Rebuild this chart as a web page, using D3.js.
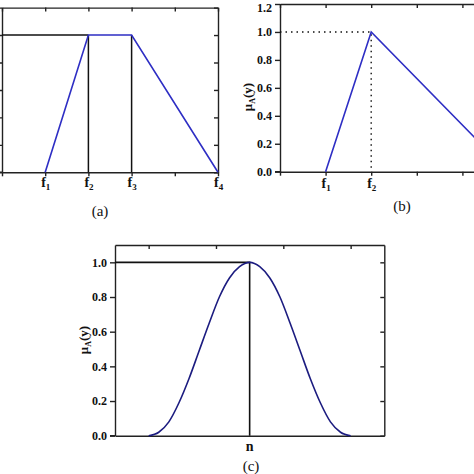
<!DOCTYPE html>
<html>
<head>
<meta charset="utf-8">
<script src="https://cdn.jsdelivr.net/npm/d3@7"></script>
<style>
  html, body { margin: 0; padding: 0; background: #fff; }
  svg { display: block; }
  text { font-family: "Liberation Serif", "Times New Roman", serif; fill: #111; }
  .tick text { font-weight: bold; font-size: 12px; }
  .domain, .tick line { stroke: #222; stroke-width: 1.4; }
</style>
</head>
<body>
<svg id="chart" width="474" height="474"></svg>
<script>
// panel (a): trapezoid membership
const trapX = [1, 2, 3, 5];
const trapY = [0, 1, 1, 0];
// panel (b): triangular membership
const triX = [1, 2, 5];
const triY = [0, 1, 0];
// panel (c): bell-shaped membership (n at 0)
const bellX = [-1.5, -1.35, -1.2, -1.05, -0.9, -0.75, -0.6, -0.45, -0.3, -0.15, 0,
               0.15, 0.3, 0.45, 0.6, 0.75, 0.9, 1.05, 1.2, 1.35, 1.5];
const bellY = [0, 0.02, 0.08, 0.19, 0.33, 0.49, 0.65, 0.8, 0.91, 0.975, 1,
               0.975, 0.91, 0.8, 0.65, 0.49, 0.33, 0.19, 0.08, 0.02, 0];

const fTicks = [0, 1, 2, 3, 4, 5];
const fLabels = {1: '1', 2: '2', 3: '3', 5: '4'};
const bLabels = {1: '1', 2: '2'};
const yTicks = [0, 0.2, 0.4, 0.6, 0.8, 1.0, 1.2];
const cTopTicks = [-1.5, -0.5, 0.5, 1.5];
const cYTicks = [0, 0.2, 0.4, 0.6, 0.8, 1.0];

const svg = d3.select('#chart');

function frame(x, y, xTicks, yT, opts) {
    const g = svg.append('g');
    const [x0, x1] = x.range();
    const [y0, y1] = y.range();
    const noBottom = opts.bottomTicks && opts.bottomTicks.length === 0;

    // bottom axis, ticks outward
    g.append('g')
        .attr('transform', `translate(0,${y0})`)
        .call(d3.axisBottom(x).tickValues(noBottom ? [] : xTicks).tickSize(4).tickSizeOuter(0).tickFormat(''));
    // top border, ticks inward
    g.append('g')
        .attr('transform', `translate(0,${y1})`)
        .call(d3.axisBottom(x).tickValues(xTicks).tickSize(4).tickSizeOuter(0).tickFormat(''));
    // left axis
    const left = g.append('g')
        .attr('transform', `translate(${x0},0)`)
        .call(d3.axisLeft(y).tickValues(yT).tickSize(5).tickSizeOuter(0).tickPadding(3)
            .tickFormat(opts.hideY ? '' : d3.format('.1f')));
    // keep the top label inside the picture
    left.selectAll('.tick text').filter(d => y(d) < 8).attr('dy', '0.62em');
    // right border, ticks inward
    g.append('g')
        .attr('transform', `translate(${x1},0)`)
        .call(d3.axisLeft(y).tickValues(yT).tickSize(4).tickSizeOuter(0).tickFormat(''));
    g.append('line')
        .attr('x1', x0 - 5).attr('x2', x0)
        .attr('y1', y0).attr('y2', y0)
        .attr('stroke', '#222').attr('stroke-width', 1.4);
    return g;
}

function fLabelsAt(g, x, yBase, labels) {
    Object.keys(labels).forEach(k => {
        const t = g.append('text')
            .attr('x', x(+k) - 4)
            .attr('y', yBase)
            .attr('font-weight', 'bold')
            .attr('font-size', 14);
        t.append('tspan').text('f');
        t.append('tspan').attr('dy', 3).attr('font-size', 9).text(labels[k]);
    });
}

function muLabel(cx, cy) {
    const t = svg.append('text')
        .attr('transform', `translate(${cx},${cy}) rotate(-90)`)
        .attr('text-anchor', 'middle')
        .attr('font-weight', 'bold')
        .attr('font-size', 13);
    t.append('tspan').text('\u03BC');
    t.append('tspan').attr('dy', 3).attr('font-size', 8).text('A');
    t.append('tspan').attr('dy', -3).text('(y)');
}

function caption(cx, cy, s) {
    svg.append('text').attr('x', cx).attr('y', cy)
        .attr('text-anchor', 'middle').attr('font-size', 15).text(s);
}

// (a)
const xa = d3.scaleLinear().domain([0, 5]).range([2, 218]);
const ya = d3.scaleLinear().domain([0, 1.2]).range([172.3, 7.6]);
const ga = frame(xa, ya, fTicks, yTicks, {hideY: true});
const lineA = d3.line().x(d => xa(d[0])).y(d => ya(d[1]));
ga.append('path')
    .attr('d', lineA([[0, 1], [2, 1]]))
    .attr('stroke', '#111').attr('stroke-width', 1.5).attr('fill', 'none');
[2, 3].forEach(v => {
    ga.append('path')
        .attr('d', lineA([[v, 0], [v, 1]]))
        .attr('stroke', '#111').attr('stroke-width', 1.5).attr('fill', 'none');
});
ga.append('path')
    .attr('d', lineA(trapX.map((d, i) => [d, trapY[i]])))
    .attr('stroke', '#2e2ec4').attr('stroke-width', 1.6).attr('fill', 'none');
fLabelsAt(ga, xa, 187, fLabels);
caption(100, 216, '(a)');

// (b)
const xb = d3.scaleLinear().domain([0, 5]).range([280, 508]);
const yb = d3.scaleLinear().domain([0, 1.2]).range([171.7, 4]);
const gb = frame(xb, yb, fTicks, yTicks, {});
const lineB = d3.line().x(d => xb(d[0])).y(d => yb(d[1]));
gb.append('path')
    .attr('d', lineB([[0, 1], [2, 1], [2, 0]]))
    .attr('stroke', '#111').attr('stroke-width', 1.4).attr('fill', 'none')
    .attr('stroke-dasharray', '1.5,4');
gb.append('path')
    .attr('d', lineB(triX.map((d, i) => [d, triY[i]])))
    .attr('stroke', '#2e2ec4').attr('stroke-width', 1.6).attr('fill', 'none');
fLabelsAt(gb, xb, 188, bLabels);
muLabel(252, 97);
caption(402, 211, '(b)');

// (c)
const xc = d3.scaleLinear().domain([-2, 2]).range([115, 384.3]);
const yc = d3.scaleLinear().domain([0, 1.1]).range([435.7, 245]);
const gc = frame(xc, yc, cTopTicks, cYTicks, {bottomTicks: []});
const lineC = d3.line().x(d => xc(d[0])).y(d => yc(d[1]));
gc.append('path')
    .attr('d', lineC([[-2, 1], [0, 1], [0, 0]]))
    .attr('stroke', '#111').attr('stroke-width', 1.6).attr('fill', 'none');
gc.append('path')
    .attr('d', lineC.curve(d3.curveMonotoneX)(bellX.map((d, i) => [d, bellY[i]])))
    .attr('stroke', '#1c1c80').attr('stroke-width', 1.6).attr('fill', 'none');
gc.append('text')
    .attr('x', xc(0)).attr('y', 451)
    .attr('text-anchor', 'middle')
    .attr('font-weight', 'bold').attr('font-size', 14).text('n');
muLabel(88, 340);
caption(251, 471, '(c)');
</script>
</body>
</html>
